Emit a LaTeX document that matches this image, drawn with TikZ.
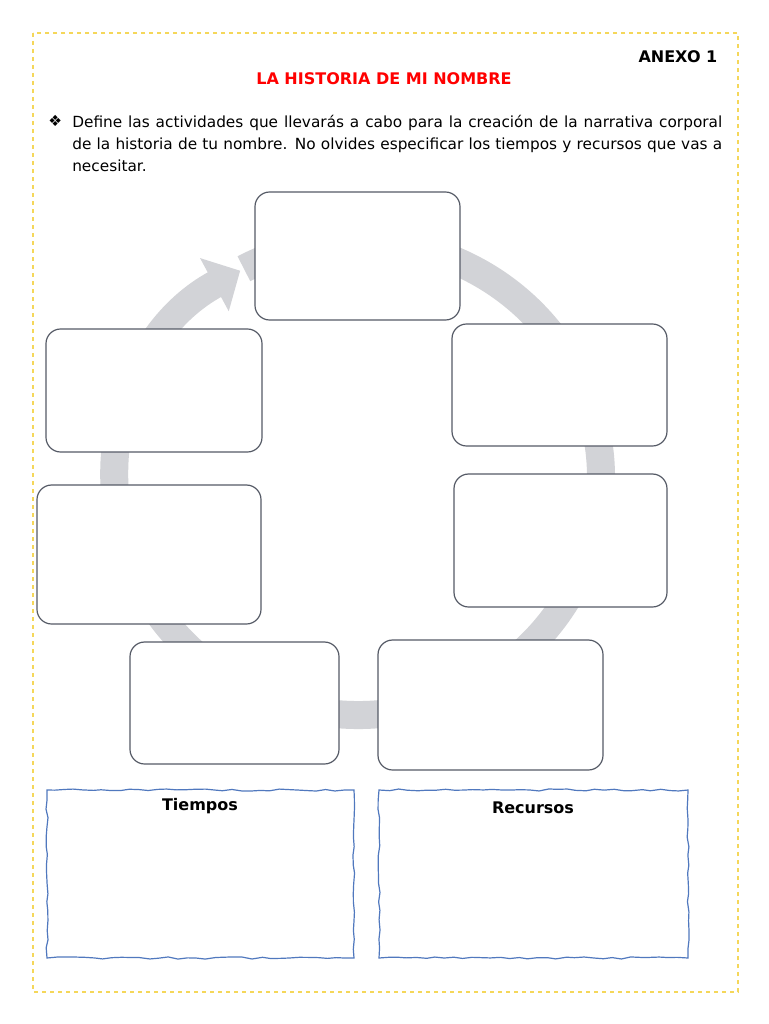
\documentclass[tikz,border=0pt]{standalone}
\usepackage{fontspec}
\setmainfont{DejaVu Sans}
\usetikzlibrary{arrows.meta,decorations.pathmorphing}
\definecolor{ringgray}{RGB}{210,211,215}
\definecolor{boxline}{RGB}{85,90,102}
\definecolor{wavyblue}{RGB}{80,120,190}
\definecolor{frameyellow}{RGB}{245,215,90}
\definecolor{titlered}{RGB}{255,0,0}
\tikzset{
  px/.style={x=0.75pt,y=-0.75pt},
  box/.style={draw=boxline,line width=0.9pt,fill=white,rounded corners=11pt},
  wavy/.style={draw=wavyblue,line width=0.9pt,decorate,decoration={random steps,segment length=7pt,amplitude=0.8pt}},
  lbl/.style={font=\bfseries\fontsize{12}{14}\selectfont},
}
\begin{document}
\begin{tikzpicture}[px]
\useasboundingbox (0,0) rectangle (768,1024);
\fill[white] (0,0) rectangle (768,1024);
\draw[frameyellow,dashed,line width=0.8pt] (33,33) rectangle (738,992);
\node[anchor=east,lbl] (anexo) at (722,57) {ANEXO 1};
\node[text=titlered,lbl] (title) at (384,79) {LA HISTORIA DE MI NOMBRE};
\node[anchor=north west,inner sep=0pt,font=\fontsize{11.5}{16.5}\selectfont] (bullet) at (48,115) {\char"2756};
\node[anchor=north west,inner sep=0pt,text width=487.5pt,align=justify,font=\fontsize{11.5}{16.5}\selectfont] (para) at (72,115)
 {Define las actividades que llevarás a cabo para la creación de la narrativa corporal de la historia de tu nombre. No olvides especificar los tiempos y recursos que vas a necesitar.};
\coordinate (c) at (358,478);
\draw[ringgray,line width=21pt,-{Triangle[length=22pt,width=44pt]}] ([shift={(-478:243 and 237)}]c) arc[start angle=-478,end angle=-119,x radius=243,y radius=237];
\node[box,minimum width=153.75pt,minimum height=96pt] (b1) at (357.5,256) {};
\node[box,minimum width=162pt,minimum height=92.25pt] (b2) at (154,390.5) {};
\node[box,minimum width=161.25pt,minimum height=91.5pt] (b3) at (559.5,385) {};
\node[box,minimum width=168pt,minimum height=104.25pt] (b4) at (149,554.5) {};
\node[box,minimum width=159.75pt,minimum height=99.75pt] (b5) at (560.5,540.5) {};
\node[box,minimum width=156.75pt,minimum height=91.5pt] (b6) at (234.5,703) {};
\node[box,minimum width=168.75pt,minimum height=97.5pt] (b7) at (490.5,705) {};
\draw[wavy] (47,790) rectangle (354,958);
\draw[wavy] (379,790) rectangle (688,958);
\node[lbl] (tiempos) at (200,806) {Tiempos};
\node[lbl] (recursos) at (533,808) {Recursos};
\end{tikzpicture}
\end{document}
